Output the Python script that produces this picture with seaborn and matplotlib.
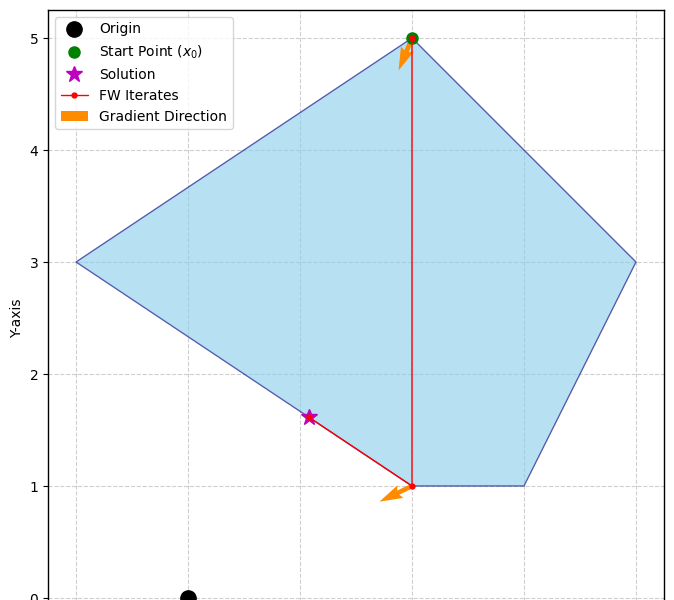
import matplotlib
matplotlib.use("Agg")
import matplotlib.pyplot as plt
import seaborn as sns

# feasible polygon (vertices in order)
poly_x = [-1, 2, 4, 3, 2]
poly_y = [3, 5, 3, 1, 1]

origin = (0, 0)
start = (2, 5)
solution = (1.077, 1.615)

# Frank-Wolfe iterates
iter_x = [2, 2, 1.077]
iter_y = [5, 1, 1.615]

# gradient direction arrows (base and vector)
arrow_x = [2, 2]
arrow_y = [5, 1]
arrow_u = [-0.12, -0.29]
arrow_v = [-0.29, -0.14]

sns.set_style("ticks", {
    "axes.edgecolor": "black", "xtick.color": "black", "ytick.color": "black",
    "text.color": "black", "axes.labelcolor": "black", "grid.color": "#b0b0b0",
})
plt.rcParams["font.family"] = ["DejaVu Sans"]

fig = plt.figure(figsize=(6.74, 6.0), dpi=100)
ax = fig.add_axes([48 / 674, -26 / 600, 616 / 674, 616 / 600])

ax.fill(poly_x, poly_y, facecolor="skyblue", edgecolor="navy", alpha=0.6,
        linewidth=1, zorder=1)


def point(x, y, color, marker, size, label):
    sns.lineplot(x=[x], y=[y], color=color, marker=marker, markersize=size,
                 markeredgecolor=color, markeredgewidth=1, linestyle="",
                 label=label, zorder=3, ax=ax)


point(origin[0], origin[1], "black", "o", 11, "Origin")
point(start[0], start[1], "green", "o", 8, "Start Point ($x_0$)")
point(solution[0], solution[1], "m", "*", 12, "Solution")

sns.lineplot(x=iter_x, y=iter_y, sort=False, estimator=None, color="red",
             linewidth=1, marker="o", markersize=3.5, markeredgecolor="red",
             markeredgewidth=1, label="FW Iterates", zorder=4, ax=ax)
ax.quiver(arrow_x, arrow_y, arrow_u, arrow_v, angles="xy", scale_units="xy",
          scale=1, color="darkorange", label="Gradient Direction", zorder=2)

ax.set_xlim(-1.25, 4.25)
ax.set_ylim(-0.25, 5.25)
ax.set_ylabel("Y-axis")
ax.set_xlabel("")
# x tick labels sit below the visible area of the picture
ax.tick_params(axis="x", labelbottom=False)
ax.grid(True, linestyle="--", alpha=0.6)
for s in ax.spines.values():
    s.set_linewidth(1.0)
ax.legend(loc="upper left", fontsize=10)

fig.savefig("out.png", dpi=100)
